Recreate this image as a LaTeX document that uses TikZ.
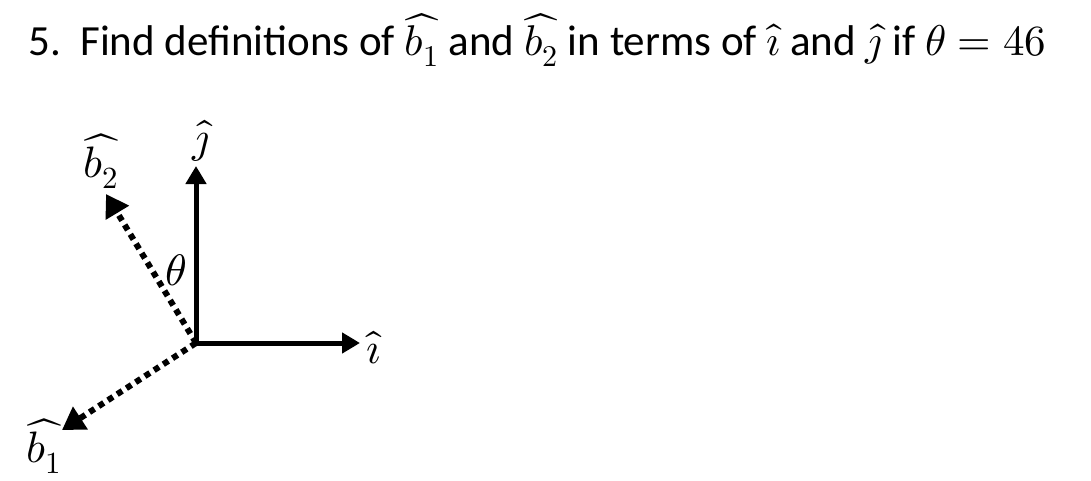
\documentclass[tikz,border=0pt]{standalone}
\usepackage{fontspec}
\usepackage{unicode-math}
\setmainfont{Carlito}
\setmathfont{Latin Modern Math}
\usetikzlibrary{arrows.meta}
\begin{document}
\begin{tikzpicture}[x=1pt,y=-1pt,
  axis/.style={line width=5pt,-{Triangle[length=18pt,width=20pt]}},
  dotvec/.style={line width=6pt,dash pattern=on 6pt off 5pt,-{Triangle[length=22pt,width=26pt]}},
  lbl/.style={inner sep=0pt,font=\fontsize{44}{50}\selectfont},
  titlefont/.style={inner sep=0pt,font=\fontsize{43}{50}\selectfont}]
\useasboundingbox (0,0) rectangle (1091,481);
\node[titlefont,anchor=base west] (title) at (28,56) {5.\ \ Find definitions of $\widehat{b_1}$ and $\widehat{b_2}$ in terms of $\hat{\imath}$ and $\hat{\jmath}$ if $\theta=46$};
\coordinate (o) at (196,343);
\coordinate (jt) at (196,166);
\coordinate (it) at (360,343);
\coordinate (b2t) at (106,194);
\coordinate (b1t) at (62,430);
\draw[axis] ([yshift=2.5pt]o) -- (jt);
\draw[axis] ([xshift=-2.5pt]o) -- (it);
\draw[dotvec] (o) -- (b2t);
\draw[dotvec] (o) -- (b1t);
\node[lbl] (jl) at (201,141) {$\hat{\jmath}$};
\node[lbl] (il) at (374,348) {$\hat{\imath}$};
\node[lbl] (b2l) at (101,161) {$\widehat{b_2}$};
\node[lbl] (b1l) at (44,446) {$\widehat{b_1}$};
\node[lbl] (th) at (176,270) {$\theta$};
\end{tikzpicture}
\end{document}
